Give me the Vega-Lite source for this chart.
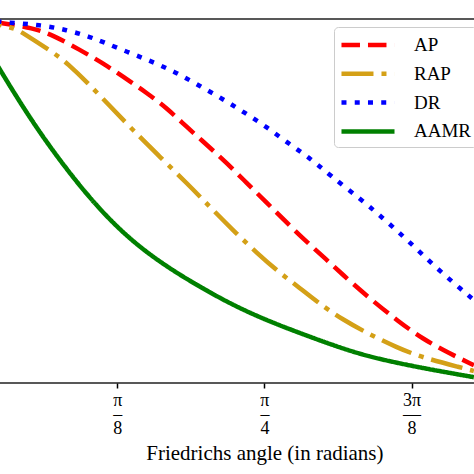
{
  "$schema": "https://vega.github.io/schema/vega-lite/v6.json",
  "autosize": {"type": "none"},
  "width": 588.8,
  "height": 364,
  "padding": {"left": -30, "top": 19, "right": -85, "bottom": 91},
  "background": "white",
  "config": {
    "view": {"stroke": "#222", "strokeWidth": 1.5},
    "font": "Liberation Serif"
  },
  "data": {"values": [
    {"m": "AP", "x": 0, "y": 1},
    {"m": "AP", "x": 0.0878, "y": 0.989},
    {"m": "AP", "x": 0.1678, "y": 0.975},
    {"m": "AP", "x": 0.2212, "y": 0.956},
    {"m": "AP", "x": 0.2932, "y": 0.915},
    {"m": "AP", "x": 0.3546, "y": 0.879},
    {"m": "AP", "x": 0.4132, "y": 0.838},
    {"m": "AP", "x": 0.4719, "y": 0.797},
    {"m": "AP", "x": 0.5253, "y": 0.755},
    {"m": "AP", "x": 0.5787, "y": 0.703},
    {"m": "AP", "x": 0.6320, "y": 0.654},
    {"m": "AP", "x": 0.6854, "y": 0.604},
    {"m": "AP", "x": 0.7387, "y": 0.549},
    {"m": "AP", "x": 0.7921, "y": 0.495},
    {"m": "AP", "x": 0.8454, "y": 0.440},
    {"m": "AP", "x": 0.8988, "y": 0.387},
    {"m": "AP", "x": 0.9521, "y": 0.338},
    {"m": "AP", "x": 0.9895, "y": 0.302},
    {"m": "AP", "x": 1.0642, "y": 0.234},
    {"m": "AP", "x": 1.1442, "y": 0.168},
    {"m": "AP", "x": 1.2082, "y": 0.121},
    {"m": "AP", "x": 1.2776, "y": 0.082},
    {"m": "AP", "x": 1.3443, "y": 0.049},
    {"m": "RAP", "x": 0, "y": 1},
    {"m": "RAP", "x": 0.1118, "y": 0.978},
    {"m": "RAP", "x": 0.1385, "y": 0.964},
    {"m": "RAP", "x": 0.2318, "y": 0.901},
    {"m": "RAP", "x": 0.2585, "y": 0.879},
    {"m": "RAP", "x": 0.3119, "y": 0.827},
    {"m": "RAP", "x": 0.3732, "y": 0.761},
    {"m": "RAP", "x": 0.4346, "y": 0.695},
    {"m": "RAP", "x": 0.5066, "y": 0.621},
    {"m": "RAP", "x": 0.5787, "y": 0.549},
    {"m": "RAP", "x": 0.6400, "y": 0.484},
    {"m": "RAP", "x": 0.7014, "y": 0.420},
    {"m": "RAP", "x": 0.7654, "y": 0.357},
    {"m": "RAP", "x": 0.8268, "y": 0.302},
    {"m": "RAP", "x": 0.8801, "y": 0.261},
    {"m": "RAP", "x": 0.9228, "y": 0.225},
    {"m": "RAP", "x": 0.9948, "y": 0.173},
    {"m": "RAP", "x": 1.0749, "y": 0.129},
    {"m": "RAP", "x": 1.1362, "y": 0.099},
    {"m": "RAP", "x": 1.2029, "y": 0.071},
    {"m": "RAP", "x": 1.3150, "y": 0.041},
    {"m": "RAP", "x": 1.3443, "y": 0.033},
    {"m": "DR", "x": 0, "y": 1},
    {"m": "DR", "x": 0.1145, "y": 0.989},
    {"m": "DR", "x": 0.1865, "y": 0.984},
    {"m": "DR", "x": 0.2585, "y": 0.970},
    {"m": "DR", "x": 0.3199, "y": 0.951},
    {"m": "DR", "x": 0.3546, "y": 0.937},
    {"m": "DR", "x": 0.4212, "y": 0.909},
    {"m": "DR", "x": 0.4879, "y": 0.882},
    {"m": "DR", "x": 0.5520, "y": 0.852},
    {"m": "DR", "x": 0.6133, "y": 0.816},
    {"m": "DR", "x": 0.6747, "y": 0.780},
    {"m": "DR", "x": 0.7334, "y": 0.742},
    {"m": "DR", "x": 0.7921, "y": 0.703},
    {"m": "DR", "x": 0.8481, "y": 0.659},
    {"m": "DR", "x": 0.9068, "y": 0.618},
    {"m": "DR", "x": 0.9601, "y": 0.571},
    {"m": "DR", "x": 1.0482, "y": 0.500},
    {"m": "DR", "x": 1.1015, "y": 0.453},
    {"m": "DR", "x": 1.1549, "y": 0.404},
    {"m": "DR", "x": 1.2029, "y": 0.357},
    {"m": "DR", "x": 1.2563, "y": 0.305},
    {"m": "DR", "x": 1.3096, "y": 0.258},
    {"m": "DR", "x": 1.3443, "y": 0.228},
    {"m": "AAMR", "x": 0, "y": 1},
    {"m": "AAMR", "x": 0.0798, "y": 0.860},
    {"m": "AAMR", "x": 0.1678, "y": 0.714},
    {"m": "AAMR", "x": 0.2585, "y": 0.585},
    {"m": "AAMR", "x": 0.3466, "y": 0.475},
    {"m": "AAMR", "x": 0.4346, "y": 0.387},
    {"m": "AAMR", "x": 0.5253, "y": 0.319},
    {"m": "AAMR", "x": 0.6133, "y": 0.264},
    {"m": "AAMR", "x": 0.7014, "y": 0.214},
    {"m": "AAMR", "x": 0.7894, "y": 0.173},
    {"m": "AAMR", "x": 0.8801, "y": 0.137},
    {"m": "AAMR", "x": 0.9681, "y": 0.104},
    {"m": "AAMR", "x": 1.0562, "y": 0.074},
    {"m": "AAMR", "x": 1.1896, "y": 0.044},
    {"m": "AAMR", "x": 1.3443, "y": 0.016}
  ]},
  "mark": {"type": "line", "strokeWidth": 4.5, "strokeCap": "butt", "interpolate": "basis", "clip": true},
  "encoding": {
    "x": {
      "field": "x", "type": "quantitative",
      "scale": {"domain": [0, 1.5708], "nice": false, "zero": false},
      "axis": {
        "values": [0.3927, 0.7854, 1.1781],
        "labelExpr": "datum.value < 0.5 ? ['π', '–', '8'] : datum.value < 1 ? ['π', '–', '4'] : ['3π', '—', '8']",
        "labelFont": "Liberation Serif", "labelFontSize": 18, "labelColor": "black",
        "labelLineHeight": 14, "labelPadding": 4,
        "domain": false, "grid": false,
        "tickColor": "black", "tickSize": 5, "tickWidth": 1.5,
        "title": "Friedrichs angle (in radians)",
        "titleFont": "Liberation Serif", "titleFontSize": 21, "titleFontWeight": "normal",
        "titleColor": "black", "titlePadding": 5
      }
    },
    "y": {
      "field": "y", "type": "quantitative",
      "scale": {"domain": [0, 1], "nice": false},
      "axis": null
    },
    "color": {
      "field": "m", "type": "nominal",
      "scale": {"domain": ["AP", "RAP", "DR", "AAMR"], "range": ["#ff0000", "#d4a017", "#0000ff", "#008000"]},
      "legend": {
        "title": null, "orient": "none", "legendX": 364, "legendY": 8,
        "symbolType": "M-2.5,0H2.5", "symbolSize": 450, "symbolStrokeWidth": 4.5, "symbolOffset": 16,
        "labelFont": "Liberation Serif", "labelFontSize": 19, "labelColor": "black",
        "labelOffset": 33, "rowPadding": 5.8, "padding": 5,
        "strokeColor": "#cccccc", "fillColor": "white", "cornerRadius": 4
      }
    },
    "strokeDash": {
      "field": "m", "type": "nominal",
      "scale": {"domain": ["AP", "RAP", "DR", "AAMR"], "range": [[18.5, 8], [32, 8, 5, 8], [5, 8.25], [1, 0]]},
      "legend": {
        "title": null, "orient": "none", "legendX": 364, "legendY": 8,
        "symbolType": "M-2.5,0H2.5", "symbolSize": 450, "symbolStrokeWidth": 4.5, "symbolOffset": 16,
        "labelFont": "Liberation Serif", "labelFontSize": 19, "labelColor": "black",
        "labelOffset": 33, "rowPadding": 5.8, "padding": 5,
        "strokeColor": "#cccccc", "fillColor": "white", "cornerRadius": 4
      }
    }
  }
}
